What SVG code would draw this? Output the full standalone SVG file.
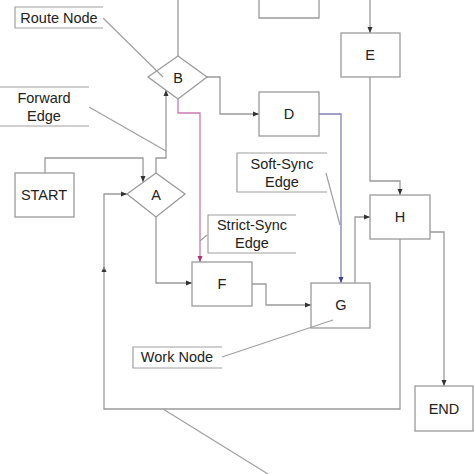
<svg xmlns="http://www.w3.org/2000/svg" width="474" height="474" viewBox="0 0 474 474">
<style>
.n{fill:#fff;stroke:#9a9a9a;stroke-width:1.3}
.c{fill:none;stroke:#9a9a9a;stroke-width:1.3}
.l{fill:none;stroke:#a0a0a0;stroke-width:1.2}
.t{font-family:"Liberation Sans",Arial,sans-serif;font-size:14.5px;fill:#222;text-anchor:middle;dominant-baseline:central}
</style>
<defs>
<marker id="ah" markerWidth="6" markerHeight="6" refX="6" refY="3" orient="auto" markerUnits="userSpaceOnUse"><path d="M0,0.5 L6,3 L0,5.5 Z" fill="#333"/></marker>
<marker id="ahp" markerWidth="6" markerHeight="6" refX="6" refY="3" orient="auto" markerUnits="userSpaceOnUse"><path d="M0,0.5 L6,3 L0,5.5 Z" fill="#b0307a"/></marker>
<marker id="ahb" markerWidth="6" markerHeight="6" refX="6" refY="3" orient="auto" markerUnits="userSpaceOnUse"><path d="M0,0.5 L6,3 L0,5.5 Z" fill="#404090"/></marker>
<marker id="mid" markerWidth="6" markerHeight="6" refX="3" refY="3" orient="auto" markerUnits="userSpaceOnUse"><path d="M0,0.5 L6,3 L0,5.5 Z" fill="#333"/></marker>
</defs>
<g id="connectors">
<path class="c" d="M178,0 V56"/>
<path class="c" d="M370,0 V33" marker-end="url(#ah)"/>
<path class="c" d="M207,77 H220 V114 H259" marker-end="url(#ah)"/>
<path class="c" d="M45,173 V158 H143 V182" marker-end="url(#ah)"/>
<path class="c" d="M156,173 V158 H166 V90" marker-end="url(#ah)"/>
<path class="c" d="M156,217 V283 H192" marker-end="url(#ah)"/>
<path fill="none" stroke="#c879b4" stroke-width="1.3" d="M178,99 V113 H200 V262" marker-end="url(#ahp)"/>
<path fill="none" stroke="#8080b8" stroke-width="1.3" d="M319,114 H341 V283" marker-end="url(#ahb)"/>
<path class="c" d="M252,284 H266 V305 H311" marker-end="url(#ah)"/>
<path class="c" d="M355,283 V217 H370" marker-end="url(#ah)"/>
<path class="c" d="M370,77 V181 H400 V195" marker-end="url(#ah)"/>
<path class="c" d="M430,232 H444 V386" marker-end="url(#ah)"/>
<path class="c" d="M400,239 V409 H104 V270"/>
<path class="c" d="M104,272 V269" marker-end="url(#mid)"/>
<path class="c" d="M104,270 V194 H127" marker-end="url(#ah)"/>
</g>
<g id="node-top"><path class="n" d="M259,-2 V18 H319 V-2"/></g>
<g id="node-B"><polygon class="n" points="178,56 207,77 178,99 148,77"/><text class="t" x="178" y="78">B</text></g>
<g id="node-A"><polygon class="n" points="156,173 185,194 156,217 127,194"/><text class="t" x="156" y="195">A</text></g>
<g id="node-D"><rect class="n" x="259" y="92" width="60" height="44"/><text class="t" x="289" y="114">D</text></g>
<g id="node-E"><rect class="n" x="341" y="33" width="59" height="44"/><text class="t" x="370" y="55">E</text></g>
<g id="node-START"><rect class="n" x="15" y="173" width="59" height="44"/><text class="t" x="44" y="195">START</text></g>
<g id="node-F"><rect class="n" x="192" y="262" width="60" height="44"/><text class="t" x="222" y="284">F</text></g>
<g id="node-G"><rect class="n" x="311" y="283" width="59" height="45"/><text class="t" x="341" y="305">G</text></g>
<g id="node-H"><rect class="n" x="370" y="195" width="60" height="44"/><text class="t" x="400" y="217">H</text></g>
<g id="node-END"><rect class="n" x="415" y="386" width="58" height="45"/><text class="t" x="444" y="409">END</text></g>
<g id="label-route"><path class="l" d="M103,7 H15 V28 H103"/><text class="t" x="59" y="18">Route Node</text><path class="l" d="M103,18 L163,77"/></g>
<g id="label-forward"><path class="l" d="M0,87 H89 M0,126 H89"/><text class="t" x="44" y="98">Forward</text><text class="t" x="44" y="116">Edge</text><path class="l" d="M89,107 L166,151"/></g>
<g id="label-strict"><path class="l" d="M296,215 H208 V253 H296"/><text class="t" x="252" y="225">Strict-Sync</text><text class="t" x="252" y="243">Edge</text><path class="l" d="M207,235 L200,241"/></g>
<g id="label-soft"><path class="l" d="M327,153 H237 V192 H327"/><text class="t" x="282" y="164">Soft-Sync</text><text class="t" x="282" y="182">Edge</text><path class="l" d="M326,173 L340,225"/></g>
<g id="label-work"><path class="l" d="M222,347 H133 V368 H222"/><text class="t" x="177" y="357">Work Node</text><path class="l" d="M222,357 L333,320"/></g>
<g id="label-bottom"><path class="l" d="M163,409 L268,474"/></g>
</svg>
